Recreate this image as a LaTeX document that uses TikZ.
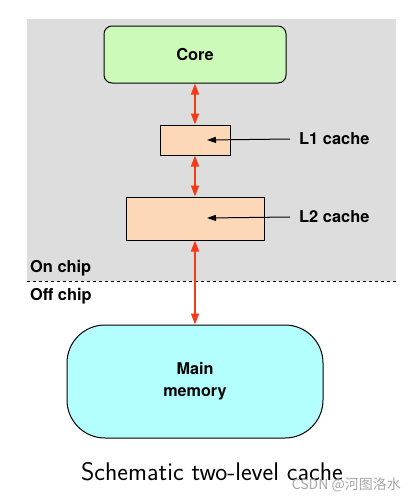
\documentclass[tikz,border=0pt]{standalone}
\usepackage{fontspec}
\setmainfont{TeX Gyre Heros}
\newfontfamily\cjk{Noto Sans CJK SC}
\newfontfamily\lmsans{Latin Modern Sans}
\usetikzlibrary{arrows.meta}
\definecolor{bggray}{HTML}{DDDDDD}
\definecolor{coregreen}{HTML}{CCFBB9}
\definecolor{cachepeach}{HTML}{FDD8B8}
\definecolor{memcyan}{HTML}{B3FFFF}
\definecolor{arrred}{HTML}{F33A1A}
\tikzset{
  blk/.style={draw=black, line width=1pt, inner sep=0pt},
  lbl/.style={font=\bfseries\fontsize{16.4}{18}\selectfont, inner sep=0pt},
  redarr/.style={draw=arrred, line width=1.6pt, {Triangle[length=11pt,width=8pt]}-{Triangle[length=11pt,width=8pt]}},
  blkarr/.style={draw=black, line width=1pt, -{Triangle[length=9pt,width=6pt]}}
}
\begin{document}
\begin{tikzpicture}[x=1pt,y=-1pt]
\useasboundingbox (0,0) rectangle (417,504);
\fill[bggray] (27,19) rectangle (396,281);
\draw[dashed, line width=0.8pt] (27,281) -- (396,281);
\node[blk, fill=coregreen, rounded corners=8pt, minimum width=182pt, minimum height=57pt, lbl] (core) at (195,54.5) {Core};
\node[blk, fill=cachepeach, minimum width=70pt, minimum height=30pt] (l1) at (195,140) {};
\node[blk, fill=cachepeach, minimum width=138pt, minimum height=43pt] (l2) at (195,218.5) {};
\node[blk, fill=memcyan, rounded corners=38pt, minimum width=256pt, minimum height=113pt, align=center, font=\bfseries\fontsize{16.2}{22}\selectfont] (mem) at (195,381.5) {Main\\memory};
\draw[redarr] (core.south) -- (l1.north);
\draw[redarr] (l1.south) -- (l2.north);
\draw[redarr] (l2.south) -- (mem.north);
\node[lbl, anchor=west] (l1t) at (299,139) {L1 cache};
\node[lbl, anchor=west] (l2t) at (299,217) {L2 cache};
\coordinate (l1p) at (207,140);
\coordinate (l2p) at (207,218);
\draw[blkarr] (l1t.west) ++(-9,0) -- (l1p);
\draw[blkarr] (l2t.west) ++(-9,0) -- (l2p);
\node[lbl, anchor=west] (on) at (30,268) {On chip};
\node[lbl, anchor=west] (off) at (30,296) {Off chip};
\node[font=\lmsans\fontsize{25.5}{28}\selectfont, inner sep=0pt] (cap) at (212,472) {Schematic two-level cache};
\node[font=\cjk\fontsize{14}{16}\selectfont, text=black!35, inner sep=0pt, anchor=east] (wm) at (401,485) {CSDN @河图洛水};
\end{tikzpicture}
\end{document}
